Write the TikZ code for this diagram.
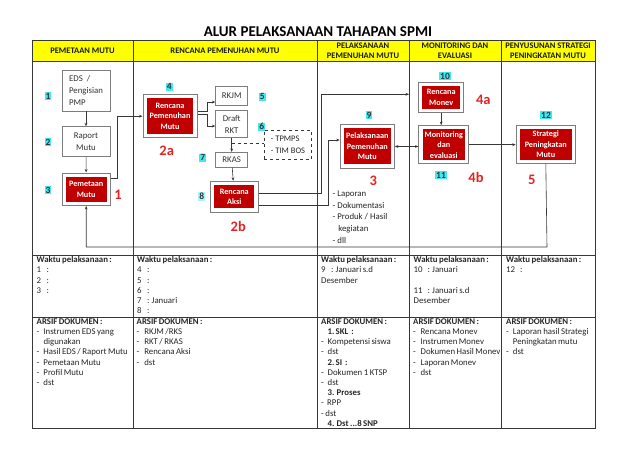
\documentclass[tikz,border=0pt]{standalone}
\usepackage{fontspec}
\setmainfont{Carlito}
\usetikzlibrary{arrows.meta,fit,calc}
\definecolor{boxred}{RGB}{192,0,0}
\definecolor{lblred}{RGB}{226,36,36}
\definecolor{cyanhl}{RGB}{64,232,242}
\definecolor{hdryel}{RGB}{255,255,0}
\definecolor{linegray}{RGB}{55,55,55}
\definecolor{boxgray}{RGB}{125,125,125}
\newcommand{\tightspc}{\spaceskip=1.5pt plus 0.5pt minus 0.2pt\relax}
\begin{document}
\begin{tikzpicture}[x=1pt,y=-1pt,
  plainbox/.style={draw=boxgray, line width=0.7pt, fill=white, inner sep=0pt, align=center, text=black!80, font=\fontsize{8.8}{12}\selectfont},
  redin/.style={fill=boxred, inner sep=0pt, align=center, text=white, font=\bfseries\fontsize{8.2}{10.5}\selectfont},
  redframe/.style={draw=boxgray, line width=0.8pt, inner sep=3.6pt},
  numlbl/.style={fill=cyanhl, inner sep=0.9pt, font=\bfseries\fontsize{9.5}{9.5}\selectfont, text=black!80},
  redlbl/.style={text=lblred, inner sep=0pt, font=\bfseries\fontsize{14.5}{14.5}\selectfont},
  conn/.style={draw=linegray, line width=0.6pt, -{Stealth[length=3.5pt,width=2.8pt]}},
  tabline/.style={draw=linegray, line width=0.9pt},
  hdr/.style={align=center, inner sep=0pt, font=\bfseries\fontsize{8.5}{10}\selectfont, text=black!90},
  tab/.style={anchor=north west, inner sep=0pt, align=left, font=\fontsize{8.8}{10.2}\selectfont\tightspc, text=black!85},
]
\useasboundingbox (0,0) rectangle (638,451);
\fill[white] (0,0) rectangle (638,451);

% title
\node[font=\bfseries\fontsize{15}{15}\selectfont, inner sep=0pt] (title) at (318,32) {ALUR PELAKSANAAN TAHAPAN SPMI};

% table
\fill[hdryel] (32,40) rectangle (595,61);
\draw[tabline] (32,40) rectangle (595,428);
\draw[tabline] (32,61) -- (595,61);
\draw[tabline] (32,255) -- (595,255);
\draw[tabline] (32,317) -- (595,317);
\foreach \xx in {133,317,409,501} \draw[tabline] (\xx,40) -- (\xx,428);

% headers
\node[hdr] (h1) at (82.5,51) {PEMETAAN MUTU};
\node[hdr] (h2) at (225,51) {RENCANA PEMENUHAN MUTU};
\node[hdr] (h3) at (363,50.5) {PELAKSANAAN\\PEMENUHAN MUTU};
\node[hdr] (h4) at (455,50.5) {MONITORING DAN\\EVALUASI};
\node[hdr] (h5) at (548,50.5) {PENYUSUNAN STRATEGI\\PENINGKATAN MUTU};

% column 1 boxes
\node[plainbox, align=left, minimum width=48pt, minimum height=41pt] (eds) at (86,90.5) {EDS\ \ /\\Pengisian\\PMP};
\node[plainbox, minimum width=48pt, minimum height=30pt] (raport) at (86,141.7) {Raport\\Mutu};
\node[redin, minimum width=41pt, minimum height=25pt] (pmin) at (86.2,189.2) {Pemetaan\\Mutu};
\node[redframe, fit=(pmin)] (pm) {};

% column 2 boxes
\node[redin, minimum width=46.6pt, minimum height=35.7pt] (rpmin) at (170,116.2) {Rencana\\Pemenuhan\\Mutu};
\node[redframe, fit=(rpmin)] (rpm) {};
\node[plainbox, minimum width=32pt, minimum height=19pt] (rkjm) at (231.7,96.2) {RKJM};
\node[plainbox, minimum width=32pt, minimum height=26.6pt] (rkt) at (231.7,124) {Draft\\RKT};
\node[plainbox, minimum width=32pt, minimum height=15pt] (rkas) at (231.7,159.8) {RKAS};
\node[redin, minimum width=40pt, minimum height=23.3pt] (aksiin) at (234.3,196.7) {Rencana\\Aksi};
\node[redframe, fit=(aksiin)] (aksi) {};
\node[draw=linegray, dashed, line width=0.6pt, align=left, inner sep=0pt, minimum width=47.4pt, minimum height=29.3pt, font=\fontsize{8.5}{12}\selectfont, text=black!85] (tim) at (288,144.7) {- TPMPS\\- TIM BOS};

% column 3
\node[redin, minimum width=46.7pt, minimum height=36pt] (pelin) at (367.3,146.3) {Pelaksanaan\\Pemenuhan\\Mutu};
\node[redframe, fit=(pelin)] (pel) {};
\node[tab, font=\fontsize{8.8}{11.7}\selectfont] (lap) at (332.5,190.5) {- Laporan\\- Dokumentasi\\- Produk / Hasil\\\hspace*{5.6pt}kegiatan\\- dll};

% column 4
\node[redin, minimum width=37.7pt, minimum height=23pt] (monevin) at (441.2,97.5) {Rencana\\Monev};
\node[redframe, fit=(monevin)] (monev) {};
\node[redin, minimum width=42.3pt, minimum height=30.7pt] (monin) at (443.8,144.7) {Monitoring\\dan\\evaluasi};
\node[redframe, fit=(monin)] (mon) {};

% column 5
\node[redin, minimum width=51.7pt, minimum height=31pt] (stratin) at (545.8,144.5) {Strategi\\Peningkatan\\Mutu};
\node[redframe, fit=(stratin)] (strat) {};

% cyan labels
\node[numlbl] (n1) at (48,96) {1};
\node[numlbl] (n2) at (48,142) {2};
\node[numlbl] (n3) at (48,190) {3};
\node[numlbl] (n4) at (169.3,86.7) {4};
\node[numlbl] (n5) at (262.3,96.7) {5};
\node[numlbl] (n6) at (261.7,126.7) {6};
\node[numlbl] (n7) at (202.7,157.7) {7};
\node[numlbl, fill=cyanhl!45] (n8) at (201.7,196.7) {8};
\node[numlbl] (n9) at (369,115) {9};
\node[numlbl] (n10) at (445,76) {10};
\node[numlbl] (n11) at (441,175) {11};
\node[numlbl] (n12) at (546,115) {12};

% red labels
\node[redlbl] (r1) at (118,195) {1};
\node[redlbl] (r2a) at (166.7,150.7) {2a};
\node[redlbl] (r2b) at (238.3,226.7) {2b};
\node[redlbl] (r3) at (373.3,180.7) {3};
\node[redlbl] (r4a) at (483.3,100) {4a};
\node[redlbl] (r4b) at (476,177.3) {4b};
\node[redlbl] (r5) at (531.7,180) {5};

% connectors
\draw[conn] (eds) -- (raport);
\draw[conn] (raport) -- (pm);
\draw[conn] (pm.east |- 0,178) -- (117.5,178) |- (rpm.west);
\draw[conn] (rpm.east |- 0,111) -- (207,111) |- (rkjm.west |- 0,102);
\draw[conn] (rpm.east |- 0,114) -- (207,114) |- (rkt.west |- 0,126);
\draw[conn] (rkt) -- (rkas);
\coordinate (dj) at (rkt.south |- 0,143.5);
\draw[draw=linegray, dashed, line width=0.6pt] (dj) -- (tim.west |- dj);
\draw[conn] (rkas) -- (aksi);
\coordinate (monevpt) at (409,94.3);
\draw[conn] (aksi.east |- 0,193.3) -- (321,193.3) |- (monevpt);
\draw[conn] (aksi.east |- 0,205) -- (328,205) |- (pel.west |- 0,140);
\draw[draw=linegray, line width=0.6pt, {Stealth[length=3.5pt,width=2.8pt]}-{Stealth[length=3.5pt,width=2.8pt]}] (pel.east |- 0,146.5) -- (mon.west |- 0,146.5);
\draw[conn] (monev.south) -- (mon.north -| monev.south);
\draw[conn] (mon.east) -- (strat.west |- mon.east);
\draw[conn] (strat.south |- 0,163.3) -- (547,247) -| (pm.south);

% Waktu pelaksanaan row
\node[tab] (w1) at (36.5,256.3) {\textbf{Waktu pelaksanaan :}\\\makebox[10pt][l]{1}:\\\makebox[10pt][l]{2}:\\\makebox[10pt][l]{3}:};
\node[tab] (w2) at (137,256.3) {\textbf{Waktu pelaksanaan :}\\\makebox[10pt][l]{4}:\\\makebox[10pt][l]{5}:\\\makebox[10pt][l]{6}:\\\makebox[10pt][l]{7}: Januari\\\makebox[10pt][l]{8}:};
\node[tab] (w3) at (321,256.3) {\textbf{Waktu pelaksanaan :}\\\makebox[10pt][l]{9}: Januari s.d\\Desember};
\node[tab] (w4) at (413.5,256.3) {\textbf{Waktu pelaksanaan :}\\\makebox[14pt][l]{10}: Januari\\[10.2pt]\makebox[14pt][l]{11}: Januari s.d\\Desember};
\node[tab] (w5) at (506,256.3) {\textbf{Waktu pelaksanaan :}\\\makebox[14pt][l]{12}:};

% Arsif dokumen row
\node[tab] (a1) at (36.5,318.3) {\textbf{ARSIF DOKUMEN :}\\\makebox[6.8pt][l]{-}Instrumen EDS yang\\\hspace*{6.8pt}digunakan\\\makebox[6.8pt][l]{-}Hasil EDS / Raport Mutu\\\makebox[6.8pt][l]{-}Pemetaan Mutu\\\makebox[6.8pt][l]{-}Profil Mutu\\\makebox[6.8pt][l]{-}dst};
\node[tab] (a2) at (136.5,318.3) {\textbf{ARSIF DOKUMEN :}\\\makebox[7.6pt][l]{-}RKJM /RKS\\\makebox[7.6pt][l]{-}RKT / RKAS\\\makebox[7.6pt][l]{-}Rencana Aksi\\\makebox[7.6pt][l]{-}dst};
\node[tab] (a3) at (321,318.3) {\textbf{ARSIF DOKUMEN :}\\\hspace*{6.5pt}\textbf{\makebox[8pt][l]{1.}SKL\ \ :}\\\makebox[6.5pt][l]{-}Kompetensi siswa\\\makebox[6.5pt][l]{-}dst\\\hspace*{6.5pt}\textbf{\makebox[8pt][l]{2.}SI\ \ :}\\\makebox[6.5pt][l]{-}Dokumen 1 KTSP\\\makebox[6.5pt][l]{-}dst\\\hspace*{6.5pt}\textbf{\makebox[9pt][l]{3.}Proses}\\\makebox[6pt][l]{-}RPP\\- dst\\\hspace*{6.5pt}\textbf{\makebox[9pt][l]{4.}Dst ...8 SNP}};
\node[tab] (a4) at (413,318.3) {\textbf{ARSIF DOKUMEN :}\\\makebox[7.4pt][l]{-}Rencana Monev\\\makebox[7.4pt][l]{-}Instrumen Monev\\\makebox[7.4pt][l]{-}Dokumen Hasil Monev\\\makebox[7.4pt][l]{-}Laporan Monev\\\makebox[7.4pt][l]{-}dst};
\node[tab] (a5) at (506,318.3) {\textbf{ARSIF DOKUMEN :}\\\makebox[6.7pt][l]{-}Laporan hasil Strategi\\\hspace*{6.7pt}Peningkatan mutu\\\makebox[6.7pt][l]{-}dst};
\end{tikzpicture}
\end{document}
